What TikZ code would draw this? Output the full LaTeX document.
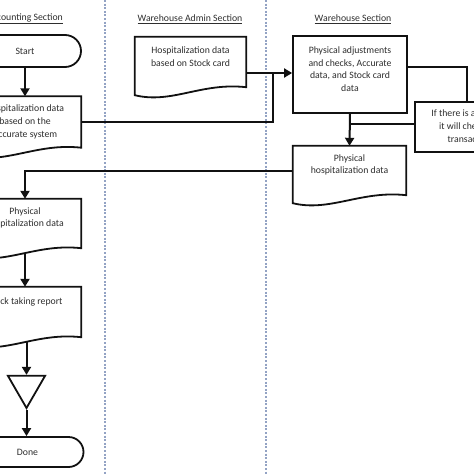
\documentclass[tikz,border=0pt]{standalone}
\usepackage{fontspec}
\setmainfont{Carlito}
\usetikzlibrary{arrows.meta, positioning, shapes.geometric, shapes.misc, calc}
\definecolor{laneBlue}{HTML}{93A3C4}
\definecolor{inkDark}{HTML}{111111}
\definecolor{textDark}{HTML}{2E2E2E}
\tikzset{
  arrowK/.style={-{Triangle[length=8pt, width=9pt]}, inkDark, line width=2pt},
  lineK/.style={inkDark, line width=2pt},
  frameK/.style={draw=inkDark, line width=1.8pt},
  laneSep/.style={laneBlue, line width=1.4pt, dash pattern=on 2pt off 1.6pt},
  secHead/.style={text=textDark, font=\fontsize{9.75}{12}\selectfont},
  boxDoc/.style={rectangle, minimum width=112pt, inner sep=0pt, align=center,
                 text=textDark, font=\fontsize{9.75}{12.7}\selectfont, text depth=13pt},
  boxProc/.style={rectangle, draw=inkDark, line width=1.8pt, fill=white, inner sep=0pt,
                  align=center, text=textDark, font=\fontsize{9.75}{12.7}\selectfont,
                  text depth=2pt},
  boxTerm/.style={rounded rectangle, draw=inkDark, line width=1.8pt, fill=white,
                  minimum width=112pt, inner sep=0pt, text=textDark,
                  font=\fontsize{9.75}{12}\selectfont},
  boxMerge/.style={regular polygon, regular polygon sides=3, shape border rotate=180,
                   draw=inkDark, line width=1.8pt, fill=white, minimum size=43pt, inner sep=0pt},
}
% document symbol: straight top, wavy bottom
\newcommand{\docwave}[1]{%
  \draw[frameK] (#1.north west) -- (#1.north east) -- (#1.south east)
    .. controls ($(#1.south east)+(-45,-5)$) and ($(#1.south west)+(37,17)$) ..
    ($(#1.south west)+(0,8)$) -- cycle;}

\begin{document}
\begin{tikzpicture}[x=1pt, y=-1pt]
  \fill[white] (0,0) rectangle (474,474);
  \useasboundingbox (0,0) rectangle (474,474);
  \clip (0,0) rectangle (474,474);

  % swimlane separators
  \draw[laneSep] (105,0) -- (105,474);
  \draw[laneSep] (266,0) -- (266,474);

  % lane headings
  \node[secHead] (hAcc) at (25,19) {\underline{Accounting Section}};
  \node[secHead] (hAdm) at (190,19) {\underline{Warehouse Admin Section}};
  \node[secHead] (hWh) at (353,19) {\underline{Warehouse Section}};

  % accounting lane
  \node[boxTerm, minimum height=32pt] (start) at (25,51) {Start};
  \node[boxDoc, minimum height=51pt, text depth=2pt] (acc1) at (25,122)
    {Hospitalization data\\based on the\\Accurate system};
  \node[boxDoc, minimum height=49pt] (doc2) at (25,223.5)
    {Physical\\hospitalization data};
  \node[boxDoc, minimum height=50pt, text depth=22pt] (doc3) at (25,312)
    {Stock taking report};
  \node[boxMerge] (merge) at (26.5,386.5) {};
  \node[boxTerm, minimum height=30pt] (done) at (27.5,452) {Done};

  % warehouse admin lane
  \node[boxDoc, minimum width=111pt, minimum height=50pt, text depth=11pt] (adm) at (190.5,62)
    {Hospitalization data\\based on Stock card};

  % warehouse lane
  \node[boxProc, minimum width=114pt, minimum height=77pt, text depth=11pt] (proc) at (350,74.5)
    {Physical adjustments\\and checks, Accurate\\data, and Stock card\\data};
  \node[boxProc, minimum width=110pt, minimum height=50pt] (ifbox) at (470,127)
    {If there is a change,\\it will check the\\transaction};
  \node[boxDoc, minimum width=113pt, minimum height=49pt] (rdoc) at (349.5,170.5)
    {Physical\\hospitalization data};

  \docwave{acc1}
  \docwave{doc2}
  \docwave{doc3}
  \docwave{adm}
  \docwave{rdoc}

  % connectors
  \coordinate (jA) at (273,73);
  \coordinate (jB) at (467,67);
  \coordinate (jC) at (350,124);
  \draw[arrowK] (start.south) -- (acc1.north);
  \draw[lineK] (acc1.east) -| (jA);
  \draw[arrowK] (adm.east |- jA) -- (proc.west |- jA);
  \draw[lineK] (proc.east |- jB) -- (jB) -- (jB |- ifbox.north);
  \draw[lineK] (ifbox.west |- jC) -- (jC);
  \draw[arrowK] (proc.south) -- (rdoc.north);
  \draw[arrowK] (rdoc.west) -| (doc2.north);
  \draw[arrowK] ($(doc2.south)+(0,5)$) -- (doc3.north);
  \draw[arrowK] ($(doc3.south)+(1.5,5)$) -- (merge.side 2);
  \draw[arrowK] (merge.corner 1) -- (merge.corner 1 |- done.north);
\end{tikzpicture}
\end{document}
